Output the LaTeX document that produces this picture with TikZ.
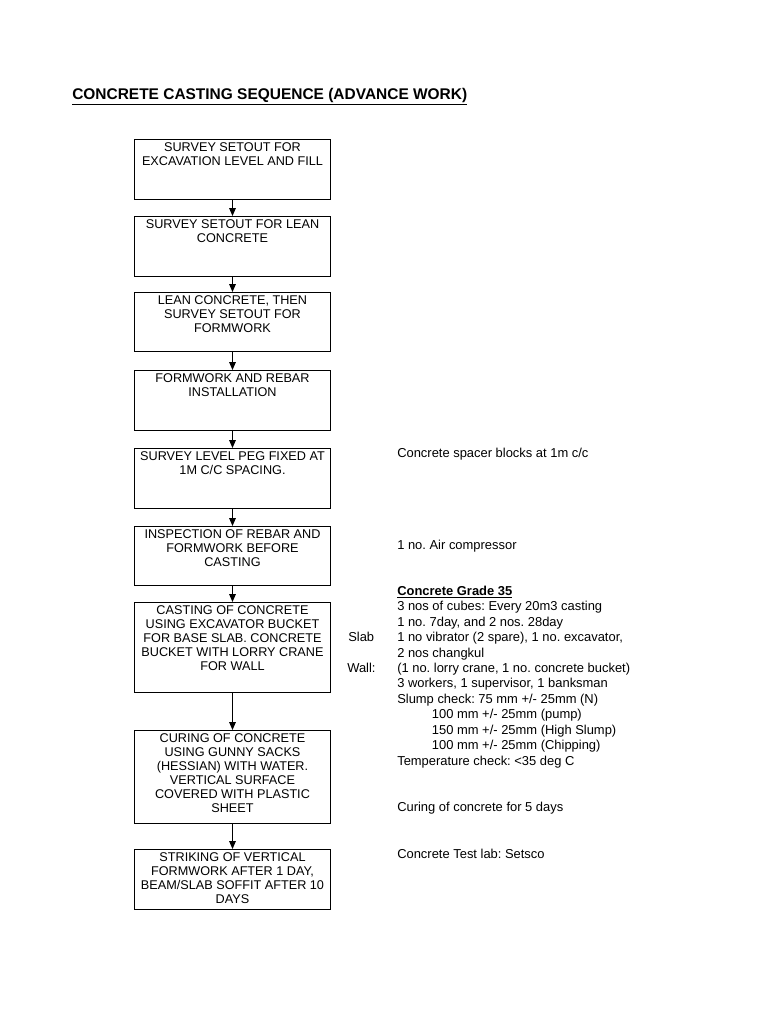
\documentclass[tikz,border=0pt]{standalone}
\usepackage{fontspec}
\setmainfont{Liberation Sans}
\usetikzlibrary{arrows.meta}
\frenchspacing
\tikzset{
  box/.style={draw, line width=0.75pt, minimum width=196*0.75pt, inner sep=0pt, anchor=north west},
  boxtext/.style={anchor=north, inner sep=0pt, align=center, yshift=-2.9pt,
    font=\fontsize{9.5pt}{10.5pt}\selectfont},
  arr/.style={line width=0.75pt, -{Triangle[length=6pt,width=5pt]}},
  note/.style={anchor=north west, inner sep=0pt, align=left,
    font=\fontsize{9.7pt}{11.6pt}\selectfont},
}
\begin{document}
\begin{tikzpicture}[x=0.75pt,y=-0.75pt]
\useasboundingbox (0,0) rectangle (768,1024);
\fill[white] (0,0) rectangle (768,1024);

% title
\node[anchor=base west, inner sep=0pt, font=\fontsize{11.6pt}{13pt}\selectfont\bfseries] (title) at (72,99)
  {\underline{CONCRETE CASTING SEQUENCE (ADVANCE WORK)}};

% boxes
\node[box, minimum height=60*0.75pt] (b1) at (134,139) {};
\node[box, minimum height=60*0.75pt] (b2) at (134,216) {};
\node[box, minimum height=59*0.75pt] (b3) at (134,292) {};
\node[box, minimum height=60*0.75pt] (b4) at (134,370) {};
\node[box, minimum height=60*0.75pt] (b5) at (134,448) {};
\node[box, minimum height=59*0.75pt] (b6) at (134,526) {};
\node[box, minimum height=90*0.75pt] (b7) at (134,602) {};
\node[box, minimum height=93*0.75pt] (b8) at (134,730) {};
\node[box, minimum height=60*0.75pt] (b9) at (134,849) {};

\node[boxtext] (t1) at (b1.north) {SURVEY SETOUT FOR\\EXCAVATION LEVEL AND FILL};
\node[boxtext] (t2) at (b2.north) {SURVEY SETOUT FOR LEAN\\CONCRETE};
\node[boxtext] (t3) at (b3.north) {LEAN CONCRETE, THEN\\SURVEY SETOUT FOR\\FORMWORK};
\node[boxtext] (t4) at (b4.north) {FORMWORK AND REBAR\\INSTALLATION};
\node[boxtext] (t5) at (b5.north) {SURVEY LEVEL PEG FIXED AT\\1M C/C SPACING.};
\node[boxtext] (t6) at (b6.north) {INSPECTION OF REBAR AND\\FORMWORK BEFORE\\CASTING};
\node[boxtext] (t7) at (b7.north) {CASTING OF CONCRETE\\USING EXCAVATOR BUCKET\\FOR BASE SLAB. CONCRETE\\BUCKET WITH LORRY CRANE\\FOR WALL};
\node[boxtext] (t8) at (b8.north) {CURING OF CONCRETE\\USING GUNNY SACKS\\(HESSIAN) WITH WATER.\\VERTICAL SURFACE\\COVERED WITH PLASTIC\\SHEET};
\node[boxtext] (t9) at (b9.north) {STRIKING OF VERTICAL\\FORMWORK AFTER 1 DAY,\\BEAM/SLAB SOFFIT AFTER 10\\DAYS};

% arrows
\draw[arr] (b1.south) -- (b2.north);
\draw[arr] (b2.south) -- (b3.north);
\draw[arr] (b3.south) -- (b4.north);
\draw[arr] (b4.south) -- (b5.north);
\draw[arr] (b5.south) -- (b6.north);
\draw[arr] (b6.south) -- (b7.north);
\draw[arr] (b7.south) -- (b8.north);
\draw[arr] (b8.south) -- (b9.north);

% notes
\node[note] (n1) at (397,447.5) {Concrete spacer blocks at 1m c/c};
\node[note] (n2) at (397,539.5) {1 no. Air compressor};
\node[note] (n3) at (397,585.5) {\underline{\textbf{Concrete Grade 35}}\\
3 nos of cubes: Every 20m3 casting\\
1 no. 7day, and 2 nos. 28day\\
1 no vibrator (2 spare), 1 no. excavator,\\
2 nos changkul\\
(1 no. lorry crane, 1 no. concrete bucket)\\
3 workers, 1 supervisor, 1 banksman\\
Slump check: 75 mm +/- 25mm (N)\\
\hspace*{26pt}100 mm +/- 25mm (pump)\\
\hspace*{26pt}150 mm +/- 25mm (High Slump)\\
\hspace*{26pt}100 mm +/- 25mm (Chipping)\\
Temperature check: <35 deg C};
\node[note] (slab) at (348,631.6) {Slab};
\node[note] (wall) at (347,662.5) {Wall:};
\node[note] (n4) at (397,802) {Curing of concrete for 5 days};
\node[note] (n5) at (397,848.5) {Concrete Test lab: Setsco};
\end{tikzpicture}
\end{document}
